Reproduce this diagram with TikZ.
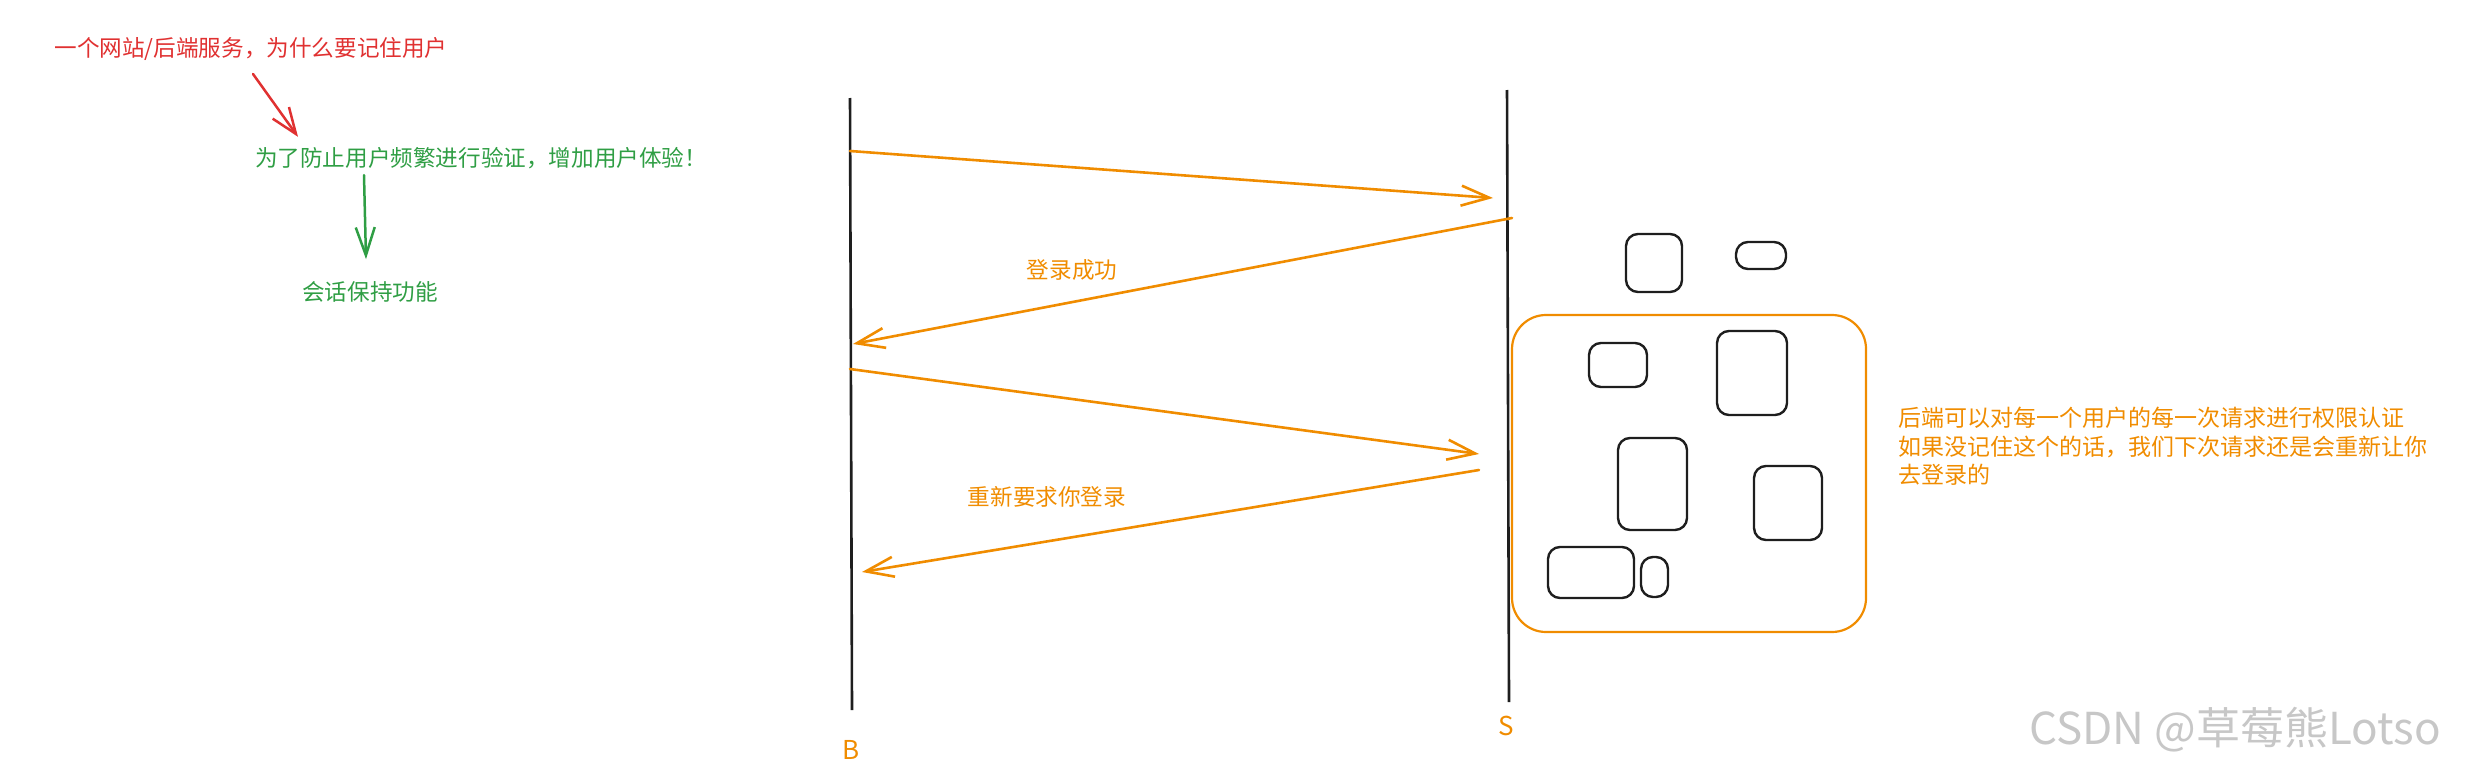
\documentclass[tikz,border=0pt]{standalone}
\usepackage{fontspec}
\setmainfont{Noto Sans CJK SC}
\usepackage{xcolor}
\usepackage{tikz}
\usetikzlibrary{arrows.meta, calc}

\definecolor{exOrange}{HTML}{F08C00}
\definecolor{exRed}{HTML}{E03131}
\definecolor{exGreen}{HTML}{2F9E44}
\definecolor{exInk}{HTML}{1E1E1E}

\begin{document}
\begin{tikzpicture}[
  x=0.5pt, y=-0.5pt,
  note/.style    = {inner sep=1pt, font=\fontsize{11.3}{13}\selectfont},
  side/.style    = {inner sep=0pt, align=left, text=exOrange,
                    font=\fontsize{11.5}{14.2}\selectfont},
  actor/.style   = {inner sep=0pt, text=exOrange, font=\fontsize{13}{14}\selectfont},
  life/.style    = {draw=exInk, line width=1.3pt},
  msg/.style     = {draw=exOrange, line width=1.3pt, line cap=round,
                    -{Straight Barb[length=14pt, width=10pt]}},
  redarr/.style  = {draw=exRed, line width=1.25pt, line cap=round,
                    -{Straight Barb[length=13pt, width=10pt]}},
  greenarr/.style= {draw=exGreen, line width=1.25pt, line cap=round,
                    -{Straight Barb[length=14pt, width=9.5pt]}},
  frame/.style   = {draw=exOrange, line width=1.1pt, rounded corners=17pt},
  blob/.style    = {draw=exInk, line width=1.2pt, rounded corners=6pt},
]
\useasboundingbox (0,0) rectangle (2472,771);

%% Motivation
\node[note, text=exRed] (why) at (251, 49)
     {一个网站/后端服务，为什么要记住用户};
\node[note, text=exGreen] (goal) at (481, 158)
     {为了防止用户频繁进行验证，增加用户体验！};
\node[note, text=exGreen] (keep) at (370, 292)
     {会话保持功能};
\draw[redarr] ($(why.south)+(2,11)$) -- ($(goal.north)+(-183,-8)$);
\draw[greenarr] ($(goal.south)+(-117,4)$) -- ($(keep.north)+(-4,-20)$);

%% Lifelines
\coordinate (btop) at (850, 98);
\coordinate (bbot) at (852, 710);
\coordinate (stop) at (1507, 90);
\coordinate (sbot) at (1509, 702);
\draw[life] (btop) -- (bbot);
\draw[life] (stop) -- (sbot);
\node[actor] (bname) at (851, 750) {B};
\node[actor] (sname) at (1506, 726) {S};

%% Messages
\coordinate (m1a) at (850, 151);
\coordinate (m1b) at (1493, 198);
\coordinate (m2a) at (1512, 218);
\coordinate (m2b) at (853, 344);
\coordinate (m3a) at (850, 369);
\coordinate (m3b) at (1479, 454);
\coordinate (m4a) at (1479, 470);
\coordinate (m4b) at (862, 572);
\draw[msg] (m1a) -- (m1b);
\draw[msg] (m2a) -- (m2b);
\draw[msg] (m3a) -- (m3b);
\draw[msg] (m4a) -- (m4b);
\node[note, text=exOrange] (ok) at (1072, 270) {登录成功};
\node[note, text=exOrange] (again) at (1047, 497) {重新要求你登录};

%% Server side objects
\draw[frame] (1512, 315) rectangle (1866, 632);
\draw[blob] (1626, 234) rectangle (1682, 292);
\draw[blob] (1736, 242) rectangle (1786, 269);
\draw[blob] (1589, 343) rectangle (1647, 387);
\draw[blob] (1717, 331) rectangle (1787, 415);
\draw[blob] (1618, 438) rectangle (1687, 530);
\draw[blob] (1754, 466) rectangle (1822, 540);
\draw[blob] (1548, 547) rectangle (1634, 598);
\draw[blob] (1641, 557) rectangle (1668, 597);

\node[side, anchor=north west] (auth) at (1898, 407)
     {后端可以对每一个用户的每一次请求进行权限认证\\
      如果没记住这个的话，我们下次请求还是会重新让你\\
      去登录的};

%% Watermark
\node[inner sep=0pt, text=black!22, font=\fontsize{22}{24}\selectfont] (mark) at (2235, 730)
     {CSDN @草莓熊Lotso};

\end{tikzpicture}
\end{document}
